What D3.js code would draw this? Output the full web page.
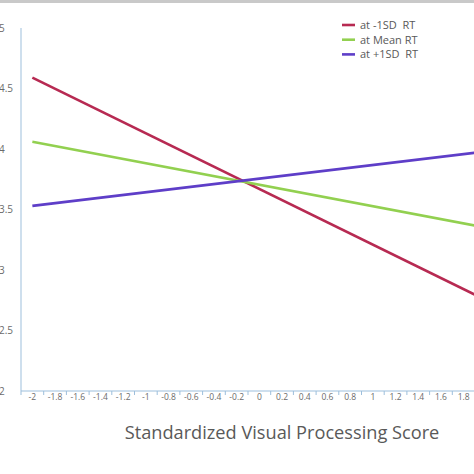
<!DOCTYPE html>
<html>
<head>
<meta charset="UTF-8">
<script src="https://d3js.org/d3.v7.min.js"></script>
<style>
  body { margin: 0; background: #fff; }
  svg { display: block; font-family: "Open Sans", "Liberation Sans", sans-serif; }
  .legend-label { white-space: pre; }
</style>
</head>
<body>
<svg id="chart" width="474" height="474"></svg>
<script>
// categories of the x axis (Excel style category axis)
const categories = ["-2", "-1.8", "-1.6", "-1.4", "-1.2", "-1", "-0.8", "-0.6", "-0.4", "-0.2",
  "0", "0.2", "0.4", "0.6", "0.8", "1", "1.2", "1.4", "1.6", "1.8", "2"];
const yTicks = [2, 2.5, 3, 3.5, 4, 4.5, 5];

// simple slopes: value at x = -2 and x = 2
const seriesNames = ["at -1SD  RT", "at Mean RT", "at +1SD  RT"];
const seriesColors = ["#b72a52", "#92d050", "#5e3ec8"];
const lowRT = [{ x: "-2", y: 4.59 }, { x: "2", y: 2.75 }];
const meanRT = [{ x: "-2", y: 4.06 }, { x: "2", y: 3.35 }];
const highRT = [{ x: "-2", y: 3.53 }, { x: "2", y: 3.98 }];
const seriesValues = [lowRT, meanRT, highRT];

const svg = d3.select("#chart");
const plotLeft = 21, plotTop = 28, plotBottom = 391, step = 22.7;

const x = d3.scaleBand().domain(categories).range([plotLeft, plotLeft + step * categories.length]).padding(0);
const y = d3.scaleLinear().domain([2, 5]).range([plotBottom, plotTop]);
const cx = d => x(d) + x.bandwidth() / 2;

// grey strip at the top of the picture
svg.append("rect").attr("x", 0).attr("y", 0).attr("width", 474).attr("height", 3).attr("fill", "#c9c9c9");

// y axis
svg.append("line")
  .attr("x1", plotLeft).attr("x2", plotLeft).attr("y1", y(5)).attr("y2", y(2))
  .attr("stroke", "#9dbfdc").attr("stroke-width", 1);

svg.append("g").selectAll("text")
  .data(yTicks)
  .join("text")
  .attr("x", -1)
  .attr("y", d => y(d))
  .attr("dy", "0.35em")
  .attr("font-size", 10)
  .attr("fill", "#6b6b6b")
  .text(d => d);

// x axis
const xAxis = svg.append("g").attr("transform", `translate(0,${plotBottom})`);
xAxis.append("line")
  .attr("x1", plotLeft).attr("x2", 474).attr("y1", 0).attr("y2", 0)
  .attr("stroke", "#9dbfdc").attr("stroke-width", 1);
xAxis.selectAll(".tick-mark")
  .data(categories)
  .join("line")
  .attr("class", "tick-mark")
  .attr("x1", d => x(d)).attr("x2", d => x(d))
  .attr("y1", 0).attr("y2", 4)
  .attr("stroke", "#9dbfdc");
xAxis.selectAll(".tick-label")
  .data(categories)
  .join("text")
  .attr("class", "tick-label")
  .attr("x", d => cx(d))
  .attr("y", 9)
  .attr("font-size", 8.5)
  .attr("text-anchor", "middle")
  .attr("fill", "#6b6b6b")
  .text(d => d);

svg.append("text")
  .attr("x", 282)
  .attr("y", 439)
  .attr("text-anchor", "middle")
  .attr("font-size", 18.2)
  .attr("fill", "#595959")
  .text("Standardized Visual Processing Score");

// lines
const line = d3.line().x(d => cx(d.x)).y(d => y(d.y));
svg.append("g").selectAll("path")
  .data(seriesValues)
  .join("path")
  .attr("d", line)
  .attr("fill", "none")
  .attr("stroke", (d, i) => seriesColors[i])
  .attr("stroke-width", 2.6);

// legend
const legend = svg.append("g").selectAll("g")
  .data(seriesNames)
  .join("g")
  .attr("transform", (d, i) => `translate(342,${25 + i * 14.7})`);
legend.append("line")
  .attr("x1", 0).attr("x2", 13)
  .attr("stroke", (d, i) => seriesColors[i])
  .attr("stroke-width", 2.6);
legend.append("text")
  .attr("class", "legend-label")
  .attr("x", 18)
  .attr("dy", "0.35em")
  .attr("font-size", 11)
  .attr("fill", "#595959")
  .text(d => d);
</script>
</body>
</html>
